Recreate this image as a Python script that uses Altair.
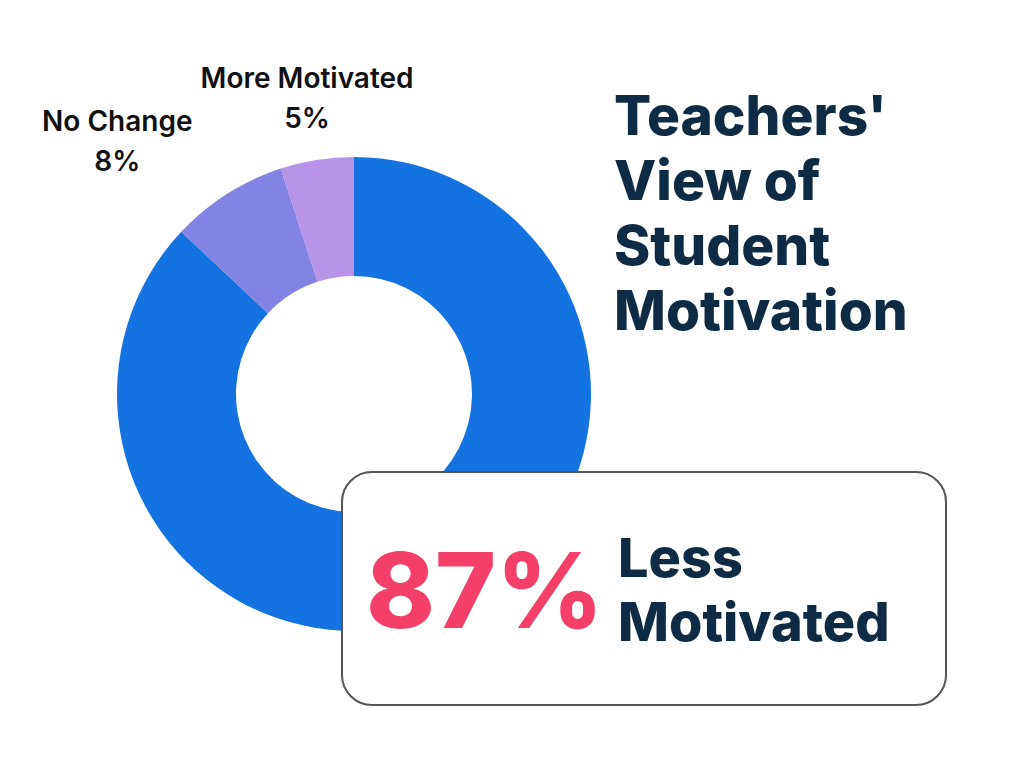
import altair as alt
import pandas as pd

categories = ["Less Motivated", "No Change", "More Motivated"]
values = [87, 8, 5]
colors = ["#1473E1", "#8383E3", "#B794E9"]

df = pd.DataFrame({"category": categories, "value": values, "idx": list(range(len(categories)))})

CX, CY = 346, 386
base = alt.Chart(df)

theta = alt.Theta("value:Q", stack=True)
order = alt.Order("idx:Q")

donut = base.mark_arc(radius=237, innerRadius=118).encode(
    theta=theta,
    order=order,
    color=alt.Color("category:N", scale=alt.Scale(domain=categories, range=colors), legend=None),
    x=alt.value(CX), y=alt.value(CY),
)

def label_layer(cat, dx):
    return base.transform_window(
        cum="sum(value)", sort=[alt.SortField("idx")], frame=[None, 0]
    ).transform_calculate(
        mid=alt.datum.cum - alt.datum.value / 2,
        lbl=alt.datum.category + "\n" + alt.datum.value + "%",
    ).transform_filter(alt.datum.category == cat).mark_text(
        radius=300, font="Inter", fontSize=28, fontWeight=600, color="#111111",
        lineBreak="\n", lineHeight=40, align="center", baseline="middle", dx=dx, dy=-18,
    ).encode(
        theta=alt.Theta("mid:Q", stack=False), text="lbl:N",
        x=alt.value(CX), y=alt.value(CY),
    )

lab_more = label_layer("More Motivated", 0)
lab_none = label_layer("No Change", -76)

box = base.mark_rect(
    cornerRadius=30, fill="white", stroke="#555555", strokeWidth=2
).encode(x=alt.value(334), x2=alt.value(938), y=alt.value(464), y2=alt.value(697)).transform_filter(
    alt.datum.idx == 0)

title = base.mark_text(
    align="left", baseline="alphabetic", font="Inter", fontSize=55, fontWeight=800,
    color="#0E2B45", lineBreak="\n", lineHeight=65,
).encode(
    x=alt.value(606), y=alt.value(127),
    text=alt.value("Teachers'\nView of\nStudent\nMotivation"),
).transform_filter(alt.datum.idx == 0)

big = base.transform_filter(alt.datum.category == "Less Motivated").transform_calculate(
    pct=alt.datum.value + "%"
).mark_text(
    align="left", baseline="alphabetic", font="Inter", fontSize=104, fontWeight=800,
    color="#F43F6B",
).encode(x=alt.value(358), y=alt.value(620), text="pct:N")

big_lbl = base.transform_filter(alt.datum.category == "Less Motivated").transform_calculate(
    lbl=alt.expr.replace(alt.datum.category, " ", "\n")
).mark_text(
    align="left", baseline="alphabetic", font="Inter", fontSize=54, fontWeight=800,
    color="#0E2B45", lineBreak="\n", lineHeight=64,
).encode(x=alt.value(610), y=alt.value(569), text="lbl:N")

chart = alt.layer(donut, lab_more, lab_none, box, title, big, big_lbl).properties(
    width=1008, height=752, padding=0, autosize="none",
).configure_view(stroke=None)

chart.save("out.html", embed_options={"renderer": "svg", "actions": False})
